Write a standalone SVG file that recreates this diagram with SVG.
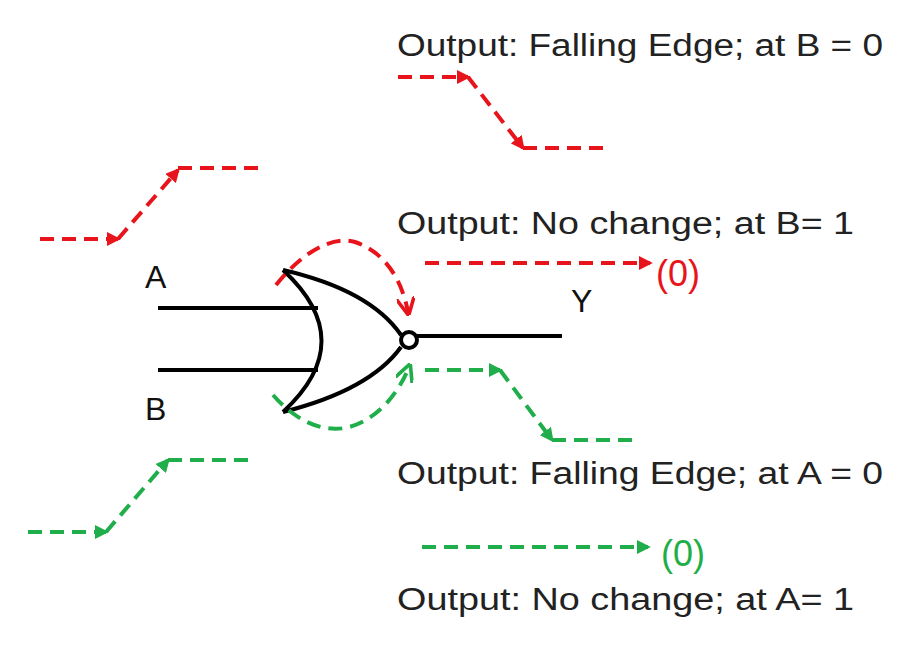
<svg xmlns="http://www.w3.org/2000/svg" width="924" height="651" viewBox="0 0 924 651">
<defs>
<marker id="ar" viewBox="0 0 10 10" refX="8" refY="5" markerWidth="14" markerHeight="14" orient="auto" markerUnits="userSpaceOnUse"><path d="M0,0L10,5L0,10z" fill="#e8141c" stroke="none"/></marker>
<marker id="ag" viewBox="0 0 10 10" refX="8" refY="5" markerWidth="14" markerHeight="14" orient="auto" markerUnits="userSpaceOnUse"><path d="M0,0L10,5L0,10z" fill="#1fae4a" stroke="none"/></marker>
<marker id="ar2" viewBox="0 0 10 10" refX="8" refY="5" markerWidth="18" markerHeight="18" orient="auto" markerUnits="userSpaceOnUse"><path d="M0,0L10,5L0,10" fill="none" stroke="#e8141c" stroke-width="2" stroke-dasharray="none"/></marker>
<marker id="ag2" viewBox="0 0 10 10" refX="8" refY="5" markerWidth="18" markerHeight="18" orient="auto" markerUnits="userSpaceOnUse"><path d="M0,0L10,5L0,10" fill="none" stroke="#1fae4a" stroke-width="2" stroke-dasharray="none"/></marker>
</defs>
<style>
.t{font-family:"Liberation Sans",Arial,sans-serif;font-size:31px;fill:#222}
.l{font-family:"Liberation Sans",Arial,sans-serif;font-size:32px;fill:#111}
.r{fill:none;stroke:#e8141c;stroke-width:4;stroke-dasharray:14 8}
.g{fill:none;stroke:#1fae4a;stroke-width:4;stroke-dasharray:14 8}
.k{fill:none;stroke:#000;stroke-width:4}
</style>
<g id="gate">
<line class="k" x1="158" y1="308" x2="318" y2="308"/>
<line class="k" x1="158" y1="370" x2="318" y2="370"/>
<path class="k" d="M283,270 Q360,341 283,412"/>
<path class="k" d="M283,270 Q370,290 401,335"/>
<path class="k" d="M283,412 Q370,390 401,347"/>
<circle cx="409" cy="340" r="8" fill="#fff" stroke="#000" stroke-width="4"/>
<line class="k" x1="417" y1="336" x2="562" y2="336"/>
</g>
<g id="labels">
<text class="l" x="145" y="288">A</text>
<text class="l" x="145" y="420">B</text>
<text class="l" x="571" y="312">Y</text>
<text class="t" x="397" y="56" textLength="486" lengthAdjust="spacingAndGlyphs">Output: Falling Edge; at B = 0</text>
<text class="t" x="397" y="234" textLength="457" lengthAdjust="spacingAndGlyphs">Output: No change; at B= 1</text>
<text class="t" x="397" y="484" textLength="486" lengthAdjust="spacingAndGlyphs">Output: Falling Edge; at A = 0</text>
<text class="t" x="397" y="610" textLength="457" lengthAdjust="spacingAndGlyphs">Output: No change; at A= 1</text>
<text x="656" y="286" font-family="Liberation Sans,Arial,sans-serif" font-size="36" fill="#e8141c">(0)</text>
<text x="661" y="566" font-family="Liberation Sans,Arial,sans-serif" font-size="36" fill="#1fae4a">(0)</text>
</g>
<g id="connectors">
<path class="r" d="M40,239H118" marker-end="url(#ar)"/>
<path class="r" d="M118,239L178,170" marker-end="url(#ar)"/>
<path class="r" d="M178,168H262"/>
<path class="g" d="M28,532H106" marker-end="url(#ag)"/>
<path class="g" d="M106,532L168,460" marker-end="url(#ag)"/>
<path class="g" d="M168,460H250"/>
<path class="r" d="M398,77H468" marker-end="url(#ar)"/>
<path class="r" d="M468,77L523,148" marker-end="url(#ar)"/>
<path class="r" d="M523,148H603"/>
<path class="r" d="M425,263H650" marker-end="url(#ar)"/>
<path class="g" d="M425,370H500" marker-end="url(#ag)"/>
<path class="g" d="M500,370L552,440" marker-end="url(#ag)"/>
<path class="g" d="M552,440H633"/>
<path class="g" d="M422,547H648" marker-end="url(#ag)"/>
<path class="r" d="M276,285 C300,255 330,235 355,242 C385,252 402,280 408,312" marker-end="url(#ar2)"/>
<path class="g" d="M273,395 C295,420 320,432 345,428 C375,422 398,395 409,367" marker-end="url(#ag2)"/>
</g>
</svg>
